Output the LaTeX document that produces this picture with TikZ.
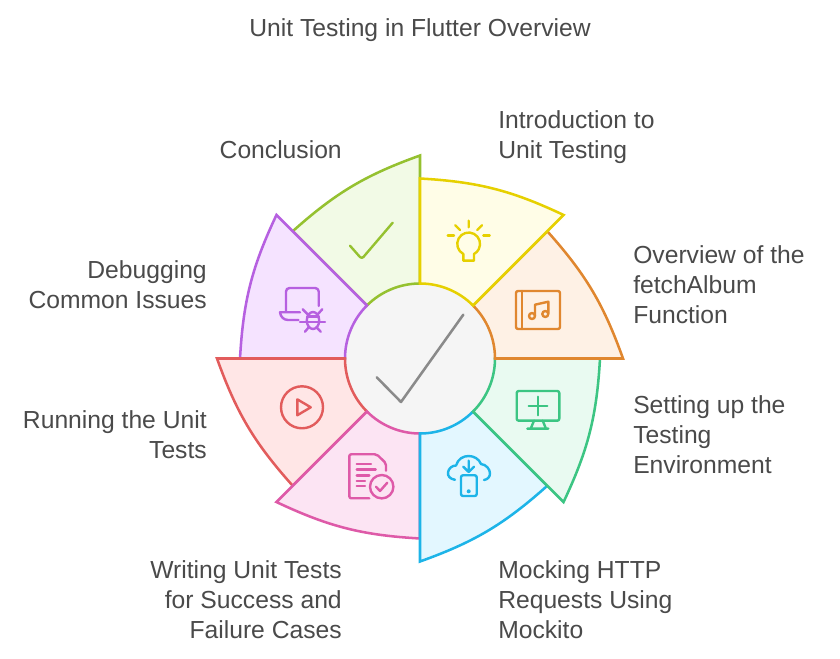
\documentclass[tikz,border=0pt]{standalone}
\usepackage{fontspec}
\setmainfont{Liberation Sans}
\usetikzlibrary{positioning}

\definecolor{inkgray}{HTML}{4A4A4A}
\definecolor{hubfill}{HTML}{F5F5F5}
\definecolor{hubtick}{HTML}{8A8A8A}
\definecolor{limeline}{HTML}{95C130}
\definecolor{limefill}{HTML}{F2FAE6}
\definecolor{purpleline}{HTML}{B660E0}
\definecolor{purplefill}{HTML}{F5E3FF}
\definecolor{redline}{HTML}{E25C5C}
\definecolor{redfill}{HTML}{FFE6E6}
\definecolor{pinkline}{HTML}{DE5AA8}
\definecolor{pinkfill}{HTML}{FCE4F3}
\definecolor{blueline}{HTML}{1DB4E8}
\definecolor{bluefill}{HTML}{E3F7FF}
\definecolor{greenline}{HTML}{3CC583}
\definecolor{greenfill}{HTML}{E9FAF1}
\definecolor{orangeline}{HTML}{E0872F}
\definecolor{orangefill}{HTML}{FEF1E5}
\definecolor{yellowline}{HTML}{E6D000}
\definecolor{yellowfill}{HTML}{FFFDE7}

\begin{document}
\begin{tikzpicture}[
    x=0.75pt, y=-0.75pt,
    petal/.style={draw=#1line, fill=#1fill, line width=1.9pt},
    icon/.style={draw=#1line, line width=1.8pt, line cap=round, line join=round},
    lblleft/.style={anchor=west, align=left, inner sep=0pt, text=inkgray, font=\fontsize{18.5}{22.5}\selectfont},
    lblright/.style={anchor=east, align=right, inner sep=0pt, text=inkgray, font=\fontsize{18.5}{22.5}\selectfont}
    ]

    \useasboundingbox (0,0) rectangle (840,659);

    % Centre disc
    \node[circle, fill=hubfill, inner sep=0pt, minimum size=112.5pt] (hub) at (420,358.5) {};

    % Petals, last one on top
    \begin{scope}[shift={(420,358.5)}]
      \foreach \ang/\col in {-135/lime, -180/purple, -225/red, -270/pink, -315/blue, -360/green, -405/orange, -450/yellow} {
        \pgfmathsetmacro{\angend}{\ang+45}
        \draw[petal=\col] (\ang:75) -- (\ang:180) to[bend left=11] (\angend:203) -- (\angend:75) arc (\angend:\ang:75) -- cycle;
      }
    \end{scope}

    % Tick in the disc
    \draw[draw=hubtick, line width=1.9pt, line cap=round, line join=round] (376.7,377.3) -- (401,402) -- (463.3,314.7);

    % Title
    \node[text=inkgray, inner sep=0pt, font=\fontsize{18.5}{22.5}\selectfont] (title) at (420,30) {Unit Testing in Flutter Overview};

    % Labels
    \node[lblleft] (intro) at (498,137.5) {Introduction to\\Unit Testing};
    \node[lblleft] (overview) at (633,285) {Overview of the\\fetchAlbum\\Function};
    \node[lblleft] (setup) at (633,435) {Setting up the\\Testing\\Environment};
    \node[lblleft] (mocking) at (498,600) {Mocking HTTP\\Requests Using\\Mockito};
    \node[lblright] (writing) at (342,600) {Writing Unit Tests\\for Success and\\Failure Cases};
    \node[lblright] (running) at (207,435) {Running the Unit\\Tests};
    \node[lblright] (debug) at (207,285) {Debugging\\Common Issues};
    \node[lblright] (concl) at (342,150) {Conclusion};

    % Bulb
    \draw[icon=yellow] (463.3,254) arc (118:422:11.4) -- (474,260.7) -- (463.3,260.7) -- cycle;
    \draw[icon=yellow] (468.7,220.7) -- (468.7,227.3) (455.3,225.3) -- (460,230) (482,225.3) -- (477.3,230);
    \draw[icon=yellow] (447.7,235.7) -- (454,235.7) (483.3,235.7) -- (489.7,235.7);

    % Music book
    \draw[icon=orange, rounded corners=1.5pt] (516,291) rectangle (560,329);
    \draw[icon=orange] (522,291) -- (522,329);
    \draw[icon=orange] (532,316) circle (3) (545.3,314) circle (3);
    \draw[icon=orange] (535,315.7) -- (535,304.7) -- (548.3,301.7) -- (548.3,313.3);

    % Monitor
    \draw[icon=green, rounded corners=1.5pt] (516.7,391) rectangle (559.3,420.7);
    \draw[icon=green] (528.7,406) -- (547.3,406) (538,396.7) -- (538,415.3);
    \draw[icon=green] (534,420.7) -- (530.7,428.7) (542.7,420.7) -- (546,428.7) (527.3,428.7) -- (548.3,428.7);

    % Cloud and phone
    \draw[icon=blue, rounded corners=1.5pt] (461,475.3) rectangle (476.7,496);
    \fill[blueline] (468.7,491.3) circle (2);
    \draw[icon=blue] (468.7,460.7) -- (468.7,472) (463.3,466.7) -- (468.7,472) -- (474,466.7);
    \draw[icon=blue] (455,479.8) .. controls (450,479) and (447.5,476) .. (448,472.5) .. controls (448.5,468.5) and (452,465.5) .. (456,465.5) .. controls (458,459) and (463,456) .. (468.7,456) .. controls (474,456) and (479,459) .. (481,464) .. controls (486,464.5) and (490,469) .. (490,473.5) .. controls (490,477) and (487.5,479.5) .. (484,480);

    % Document with tick
    \draw[icon=pink, rounded corners=1.5pt] (369.3,498.3) -- (349.3,498.3) -- (349.3,454.3) -- (376.7,454.3) -- (386,463.3) -- (386,470.7);
    \draw[icon=pink] (356.7,464.3) -- (371,464.3) (356.7,469.7) -- (375.7,469.7) (356.7,475.7) -- (369.3,475.7) (356.7,481) -- (365,481) (356.7,486.3) -- (365,486.3);
    \draw[icon=pink] (381.7,486.7) circle (11.7);
    \draw[icon=pink] (376,486.7) -- (380,491) -- (387.3,482.7);

    % Play
    \draw[icon=red] (302,407.3) circle (21);
    \draw[icon=red] (297.3,399.3) -- (310.7,407.3) -- (297.3,415.3) -- cycle;

    % Laptop with bug
    \draw[icon=purple] (286,311.7) -- (286,291.5) arc (180:270:3.5) -- (315.2,288) arc (270:360:3.5) -- (318.7,306);
    \draw[icon=purple] (300,312.3) -- (280,312.3) .. controls (280.5,317) and (284,320) .. (288,320) -- (298.3,320);
    \draw[icon=purple] (313,320.5) ellipse (6.2 and 8.5);
    \draw[icon=purple] (300,322) -- (325,322) (307.3,316.7) -- (318.7,316.7);
    \draw[icon=purple] (302.7,309.3) -- (307.3,314) (322.3,309.3) -- (318,314) (305,331.7) -- (308.7,327.3) (320.7,331.7) -- (316.5,327.3);

    % Tick
    \draw[icon=lime, rounded corners=2pt] (350,245.7) -- (361.7,259) -- (392.7,222.7);

\end{tikzpicture}
\end{document}
